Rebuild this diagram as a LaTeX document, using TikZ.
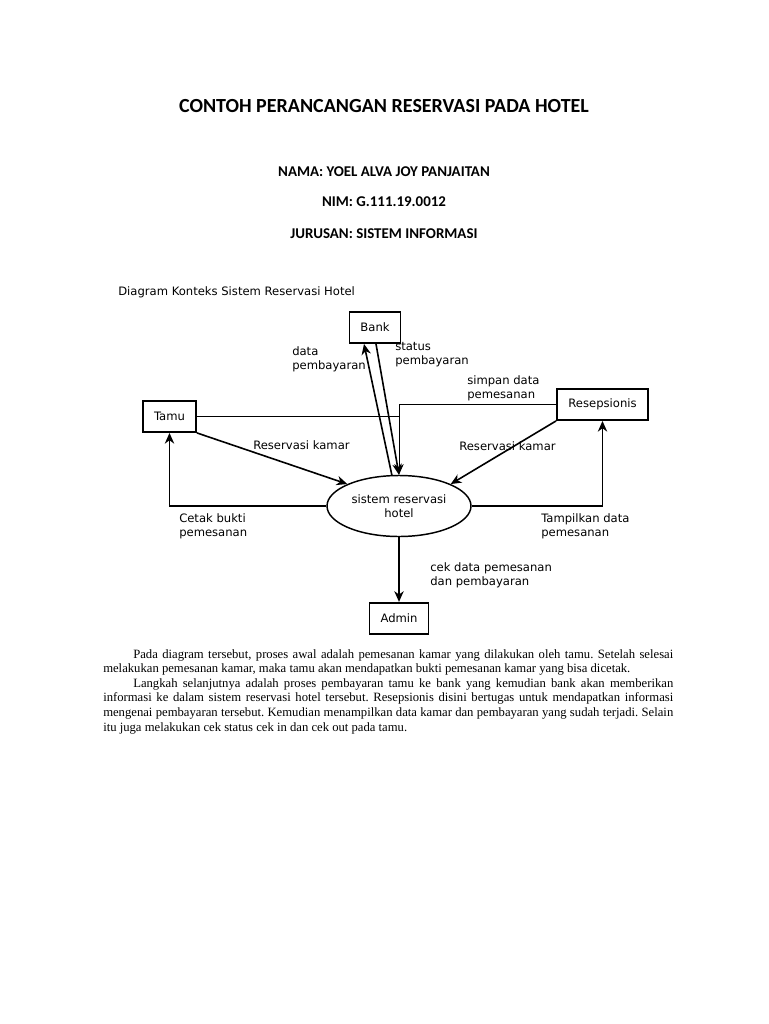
\documentclass[tikz,border=0pt]{standalone}
\usepackage{fontspec}
\setmainfont{Liberation Serif}
\newfontfamily\diafont{DejaVu Sans}
\newfontfamily\headfont{Carlito}
\usepackage{tikz}
\usetikzlibrary{shapes.geometric, arrows.meta, positioning, calc}
\frenchspacing

\begin{document}
\begin{tikzpicture}[
  x=0.75pt, y=-0.75pt,
  font=\diafont\fontsize{8.7}{10.5}\selectfont,
  entity/.style={rectangle, draw, line width=1.4pt, minimum height=23.25pt, inner sep=2pt},
  proc/.style={ellipse, draw, line width=1.1pt, minimum width=108pt, minimum height=45.75pt,
              align=center, inner sep=0pt},
  lbl/.style={align=left, inner sep=0pt, anchor=west},
  titlehead/.style={font=\headfont\bfseries\fontsize{15}{18}\selectfont, inner sep=0pt},
  subhead/.style={font=\headfont\bfseries\fontsize{11.2}{13}\selectfont, inner sep=0pt},
  arr/.style={-{Stealth[length=8pt, width=7pt, inset=2.5pt]}, line width=1.2pt},
  flow/.style={line width=0.75pt},
]

\fill[white] (0,0) rectangle (768,1024);
\useasboundingbox (0,0) rectangle (768,1024);

\node[titlehead] (title) at (384,106) {CONTOH PERANCANGAN RESERVASI PADA HOTEL};
\node[subhead] (nama) at (384,171.5) {NAMA: YOEL ALVA JOY PANJAITAN};
\node[subhead] (nim) at (384,202) {NIM: G.111.19.0012};
\node[subhead] (jurusan) at (384,234) {JURUSAN: SISTEM INFORMASI};

\node[lbl] (caption) at (118,292) {Diagram Konteks Sistem Reservasi Hotel};

\node[entity, minimum width=38.25pt] (bank) at (375,327.5) {Bank};
\node[entity, minimum width=39.75pt] (tamu) at (169.5,416.5) {Tamu};
\node[entity, minimum width=68.25pt] (resep) at (602.5,404.5) {Resepsionis};
\node[proc] (sys) at (399,506) {sistem reservasi\\hotel};
\node[entity, minimum width=44.25pt, below=48.5pt of sys] (admin) {Admin};

\node[lbl] (lbldata) at (292,359) {data\\pembayaran};
\node[lbl] (lblstatus) at (395,354.5) {status\\pembayaran};
\node[lbl] (lblsimpan) at (467,388.5) {simpan data\\pemesanan};
\node[lbl] (lblrestamu) at (253,445) {Reservasi kamar};
\node[lbl] (lblresresep) at (459,446) {Reservasi kamar};
\node[lbl] (lblcetak) at (179,526) {Cetak bukti\\pemesanan};
\node[lbl] (lbltampil) at (541,526) {Tampilkan data\\pemesanan};
\node[lbl] (lblcek) at (430,575.5) {cek data pemesanan\\dan pembayaran};

\node[anchor=north west, text width=427.5pt, align=justify, inner sep=0pt,
      font=\rmfamily\fontsize{9.5}{10.95}\selectfont] (body) at (103,649)
  {\hspace*{22.5pt}Pada diagram tersebut, proses awal adalah pemesanan kamar yang dilakukan oleh tamu. Setelah selesai\linebreak
   melakukan pemesanan kamar, maka tamu akan mendapatkan bukti pemesanan kamar yang bisa dicetak.\par
   \hspace*{22.5pt}Langkah selanjutnya adalah proses pembayaran tamu ke bank yang kemudian bank akan memberikan\linebreak
   informasi ke dalam sistem reservasi hotel tersebut. Resepsionis disini bertugas untuk mendapatkan informasi\linebreak
   mengenai pembayaran tersebut. Kemudian menampilkan data kamar dan pembayaran yang sudah terjadi. Selain\linebreak
   itu juga melakukan cek status cek in dan cek out pada tamu.};

\draw[arr] (tamu.south east) -- (sys.157);
\draw[arr] (resep.south west) -- (sys.23);
\draw[arr] (sys.103) -- ($(bank.south)+(-11,0)$);
\draw[arr] ($(bank.south)+(1,0)$) -- (sys.north);
\draw[arr, flow] (resep.west) -| (sys.north);
\draw[flow] (tamu.east) -- (tamu.east -| sys.north);
\draw[arr] (sys.west) -| (tamu.south);
\draw[arr] (sys.east) -| (resep.south);
\draw[arr] (sys.south) -- (admin.north);

\end{tikzpicture}
\end{document}
